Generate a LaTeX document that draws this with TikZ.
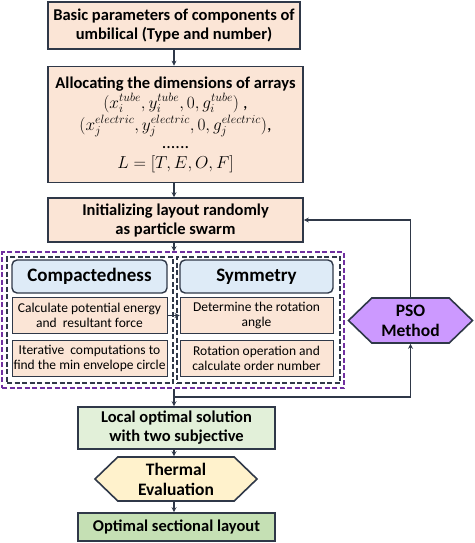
\documentclass[tikz,border=0pt]{standalone}
\usepackage{fontspec}
\setmainfont{Carlito}
\usetikzlibrary{arrows.meta,positioning,shapes.symbols}
\definecolor{edge}{RGB}{47,56,72}
\definecolor{peach}{RGB}{251,229,214}
\definecolor{skyb}{RGB}{222,235,247}
\definecolor{leaf}{RGB}{226,240,217}
\definecolor{leafd}{RGB}{197,224,180}
\definecolor{cream}{RGB}{255,242,204}
\definecolor{lilac}{RGB}{204,153,255}
\definecolor{grape}{RGB}{112,48,160}

\newcommand{\mathline}{\mdseries\fontsize{18}{21}\selectfont}

\tikzset{
  mainbox/.style={draw=edge,line width=1.6pt,fill=peach,align=center,
    font=\bfseries\fontsize{16.5}{19}\selectfont,inner sep=1pt},
  headbox/.style={draw=edge,line width=1.4pt,fill=skyb,rounded corners=5pt,
    font=\bfseries\fontsize{19}{23}\selectfont,minimum height=33pt},
  subbox/.style={draw=edge,line width=0.9pt,fill=peach,align=center,
    font=\fontsize{13.5}{15}\selectfont,minimum width=155pt,minimum height=36pt,inner sep=1pt},
  hexbox/.style={signal,signal to=west and east,signal pointer angle=88,
    draw=edge,line width=1.6pt,align=center,inner sep=1pt,
    font=\bfseries\fontsize{17.5}{20}\selectfont},
  dashbox/.style={dash pattern=on 5pt off 2.5pt,inner sep=0pt},
  flow/.style={draw=edge,line width=1.5pt,-{Stealth[length=5pt,width=5pt]}}
}

\begin{document}
\begin{tikzpicture}[x=1pt,y=-1pt]
  \useasboundingbox (0,0) rectangle (474,543);

  % main column
  \node[mainbox,minimum width=252pt,minimum height=47pt] (basic) at (174,25.5)
    {Basic parameters of components of\\umbilical (Type and number)};
  \node[mainbox,minimum width=255pt,minimum height=116pt] (alloc) at (175.5,124.5)
    {Allocating the dimensions of arrays\\[1pt]
     \mathline$\bigl(x_i^{tube},y_i^{tube},0,g_i^{tube}\bigr)$ ,\\[3pt]
     \mathline$\bigl(x_j^{electric},y_j^{electric},0,g_j^{electric}\bigr)$,\\[-1pt]
     \mathline......\\[1pt]
     \mathline$L=[T,E,O,F]$};
  \node[mainbox,minimum width=255pt,minimum height=44pt] (init) at (175.5,220)
    {Initializing layout randomly\\as particle swarm};

  % two sub-objectives
  \node[dashbox,draw=grape,line width=1.4pt,minimum width=342pt,minimum height=136pt]
    (opt) at (173,320) {};
  \node[dashbox,draw=edge,line width=1.2pt,minimum width=166pt,minimum height=126pt]
    (compbox) at (90,320) {};
  \node[dashbox,draw=edge,line width=1.2pt,minimum width=163pt,minimum height=126pt]
    (symbox) at (258.5,320) {};
  \node[headbox,minimum width=155pt] (comp) at (89.5,276.5) {Compactedness};
  \node[headbox,minimum width=153pt] (sym) at (256.5,276.5) {Symmetry};
  \node[subbox] (energy) at (89.5,315.5) {Calculate potential energy\\and\ \ resultant force};
  \node[subbox] (circle) at (89.5,358) {Iterative\ \ computations to\\find the min envelope circle};
  \node[subbox,minimum width=153pt] (angle) at (256.5,315.5) {Determine the rotation\\angle};
  \node[subbox,minimum width=153pt] (order) at (256.5,358) {Rotation operation and\\calculate order number};

  % optimisation loop
  \node[hexbox,fill=lilac,minimum width=124pt,minimum height=45pt] (pso) at (410.5,320.5)
    {PSO\\Method};
  \coordinate (split) at (174,397);

  % results
  \node[mainbox,fill=leaf,minimum width=197pt,minimum height=42pt] (local) at (176.5,428)
    {Local optimal solution\\with two subjective};
  \node[hexbox,fill=cream,minimum width=162pt,minimum height=44pt] (thermal) at (176,479)
    {Thermal\\Evaluation};
  \node[mainbox,fill=leafd,minimum width=197pt,minimum height=28pt] (final) at (176.5,527)
    {Optimal sectional layout};

  % connectors
  \draw[flow] (basic.south -| 174,0) -- (alloc.north -| 174,0);
  \draw[flow] (alloc.south -| 174,0) -- (init.north -| 174,0);
  \draw[flow] (init.south -| 174,0) -- (opt.north -| 174,0);
  \draw[flow] (energy.east) -- (angle.west);
  \draw[flow] (opt.south -| 174,0) -- (local.north -| 174,0);
  \draw[flow] (split) -| (pso.south);
  \draw[flow] (pso.north) |- (init.east);
  \draw[flow] (local.south -| 174,0) -- (thermal.north -| 174,0);
  \draw[flow] (thermal.south -| 174,0) -- (final.north -| 174,0);
\end{tikzpicture}
\end{document}
